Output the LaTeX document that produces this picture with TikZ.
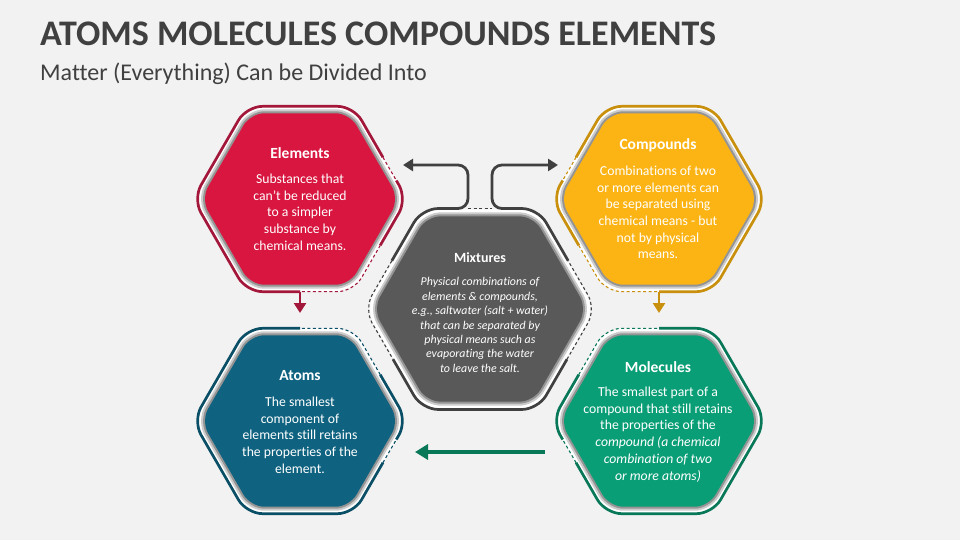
\documentclass[tikz,border=0pt]{standalone}
\usepackage{fontspec}
\setmainfont{Carlito}[Ligatures=CommonOff]
\usetikzlibrary{calc,arrows.meta}
\definecolor{bg}{HTML}{F2F2F2}
\definecolor{txt}{HTML}{404040}
\definecolor{elF}{HTML}{D8163F}
\definecolor{elR}{HTML}{A3173A}
\definecolor{coF}{HTML}{FCB415}
\definecolor{coR}{HTML}{C8900C}
\definecolor{miF}{HTML}{595959}
\definecolor{miR}{HTML}{404040}
\definecolor{atF}{HTML}{106380}
\definecolor{atR}{HTML}{0B4F66}
\definecolor{moF}{HTML}{0A9E76}
\definecolor{moR}{HTML}{087858}
\newcommand\hexpts[4]{%
  \path ({#2+#4},{#3}) coordinate (#1-0)
        ({#2+0.5*#4},{#3-0.866*#4}) coordinate (#1-1)
        ({#2-0.5*#4},{#3-0.866*#4}) coordinate (#1-2)
        ({#2-#4},{#3}) coordinate (#1-3)
        ({#2-0.5*#4},{#3+0.866*#4}) coordinate (#1-4)
        ({#2+0.5*#4},{#3+0.866*#4}) coordinate (#1-5);}
\newcommand\hexfill[2]{%
  \foreach \w/\c in {14/white, 8/black!20, 4/black!42}
    \draw[line width=\w pt, draw=\c, rounded corners=14pt] ($(#1-1)!0.5!(#1-2)$) -- (#1-2) -- (#1-3) -- (#1-4) -- (#1-5) -- (#1-0) -- (#1-1) -- cycle;
  \fill[#2, rounded corners=14pt] ($(#1-1)!0.5!(#1-2)$) -- (#1-2) -- (#1-3) -- (#1-4) -- (#1-5) -- (#1-0) -- (#1-1) -- cycle;}
\begin{document}
\begin{tikzpicture}[x=1pt,y=-1pt,
  ring/.style={line width=2.7pt, rounded corners=16pt},
  dring/.style={line width=1.1pt, rounded corners=16pt, dash pattern=on 3pt off 2.5pt},
  arr/.style={line width=2.8pt, -{Triangle[length=10pt,width=12pt]}},
  htitle/.style={text=white, font=\fontsize{15.5}{18}\selectfont\bfseries, inner sep=0pt},
  hbody/.style={text=white, align=center, font=\fontsize{13.7}{16.7}\selectfont, inner sep=0pt},
  mbody/.style={text=white, align=center, font=\fontsize{11.9}{14.4}\selectfont\itshape, inner sep=0pt}]
\fill[bg] (0,0) rectangle (960,540);
\useasboundingbox (0,0) rectangle (960,540);
% title
\node[anchor=base west, inner sep=0pt, text=txt, font=\fontsize{36}{40}\selectfont\bfseries] (title) at (40,46) {ATOMS MOLECULES COMPOUNDS ELEMENTS};
\node[anchor=base west, inner sep=0pt, text=txt, font=\fontsize{24}{28}\selectfont] (subtitle) at (40,81) {Matter (Everything) Can be Divided Into};
% geometry
\hexpts{Er}{300}{199}{107}\hexpts{Ef}{300}{199}{99}
\hexpts{Cr}{659}{199}{107}\hexpts{Cf}{659}{199}{99}
\hexpts{Ar}{300}{421}{107}\hexpts{Af}{300}{421}{99}
\hexpts{Or}{659}{421}{107}\hexpts{Of}{659}{421}{99}
\hexpts{Mr}{480}{309}{116}\hexpts{Mf}{480}{309}{107}
\coordinate (Eb) at ($(Er-4)!0.5!(Er-5)$);
\coordinate (Cb) at ($(Cr-4)!0.5!(Cr-5)$);
\coordinate (At) at ($(Ar-1)!0.5!(Ar-2)$);
\coordinate (Ot) at ($(Or-1)!0.5!(Or-2)$);
\coordinate (EA) at (300,313);
\coordinate (CO) at (659,313);
\coordinate (gs) at (545,452);
\coordinate (gt) at (415,452);
\coordinate (ml) at (468,208.5);
\coordinate (mr) at (492,208.5);
\coordinate (mlx) at (445,208.5);
\coordinate (mrx) at (515,208.5);
\coordinate (mlu) at (468,165);
\coordinate (mru) at (492,165);
\coordinate (mtipL) at (403,165);
\coordinate (mtipR) at (558,165);
% fills
\hexfill{Ef}{elF}
\hexfill{Cf}{coF}
\hexfill{Af}{atF}
\hexfill{Of}{moF}
\hexfill{Mf}{miF}
% Elements ring
\draw[ring, elR] (Eb) -- (Er-4) -- (Er-3) -- (Er-2) -- (Er-1) -- ($(Er-1)!0.55!(Er-0)$);
\draw[dring, elR] ($(Er-1)!0.55!(Er-0)$) -- ($(Er-1)!0.8!(Er-0)$);
\draw[ring, elR] ($(Er-1)!0.8!(Er-0)$) -- (Er-0) -- ($(Er-0)!0.5!(Er-5)$);
\draw[dring, elR] ($(Er-0)!0.5!(Er-5)$) -- (Er-5) -- (Eb);
\draw[arr, elR] (Eb) -- (EA);
% Compounds ring
\draw[ring, coR] (Cb) -- (Cr-5) -- (Cr-0) -- (Cr-1) -- (Cr-2) -- ($(Cr-2)!0.55!(Cr-3)$);
\draw[dring, coR] ($(Cr-2)!0.55!(Cr-3)$) -- ($(Cr-2)!0.8!(Cr-3)$);
\draw[ring, coR] ($(Cr-2)!0.8!(Cr-3)$) -- (Cr-3) -- ($(Cr-3)!0.5!(Cr-4)$);
\draw[dring, coR] ($(Cr-3)!0.5!(Cr-4)$) -- (Cr-4) -- (Cb);
\draw[arr, coR] (Cb) -- (CO);
% Atoms ring
\draw[ring, atR] (At) -- (Ar-2) -- (Ar-3) -- (Ar-4) -- (Ar-5) -- ($(Ar-5)!0.55!(Ar-0)$);
\draw[dring, atR] ($(Ar-5)!0.55!(Ar-0)$) -- ($(Ar-5)!0.8!(Ar-0)$);
\draw[ring, atR] ($(Ar-5)!0.8!(Ar-0)$) -- (Ar-0) -- ($(Ar-0)!0.5!(Ar-1)$);
\draw[dring, atR] ($(Ar-0)!0.5!(Ar-1)$) -- (Ar-1) -- (At);
% Molecules ring
\draw[ring, moR] (Ot) -- (Or-1) -- (Or-0) -- (Or-5) -- (Or-4) -- ($(Or-4)!0.55!(Or-3)$);
\draw[dring, moR] ($(Or-4)!0.55!(Or-3)$) -- ($(Or-4)!0.8!(Or-3)$);
\draw[ring, moR] ($(Or-4)!0.8!(Or-3)$) -- (Or-3) -- ($(Or-3)!0.5!(Or-2)$);
\draw[dring, moR] ($(Or-3)!0.5!(Or-2)$) -- (Or-2) -- (Ot);
\draw[moR, line width=4pt, -{Triangle[length=13pt,width=15pt]}] (gs) -- (gt);
% Mixtures ring
\draw[ring, miR] ($(Mr-2)!0.52!(Mr-3)$) -- (Mr-2) -- (450,208.5);
\draw[dring, miR] ($(Mr-2)!0.52!(Mr-3)$) -- (Mr-3) -- ($(Mr-3)!0.5!(Mr-4)$);
\draw[ring, miR] ($(Mr-3)!0.5!(Mr-4)$) -- (Mr-4) -- (Mr-5) -- ($(Mr-5)!0.5!(Mr-0)$);
\draw[dring, miR] ($(Mr-5)!0.5!(Mr-0)$) -- (Mr-0) -- ($(Mr-0)!0.48!(Mr-1)$);
\draw[ring, miR] ($(Mr-0)!0.48!(Mr-1)$) -- (Mr-1) -- (510,208.5);
\draw[dring, miR, rounded corners=0pt] (ml) -- (mr);
\draw[arr, miR, rounded corners=10pt] (mlx) -- (ml) -- (mlu) -- (mtipL);
\draw[arr, miR, rounded corners=10pt] (mrx) -- (mr) -- (mru) -- (mtipR);
% texts
\node[htitle] (el-t) at (300,153) {Elements};
\node[hbody] (el-b) at (300,212) {Substances that\\can’t be reduced\\to a simpler\\substance by\\chemical means.};
\node[htitle] (co-t) at (658,145) {Compounds};
\node[hbody] (co-b) at (658,212.5) {Combinations of two\\or more elements can\\be separated using\\chemical means - but\\not by physical\\means.};
\node[htitle, font=\fontsize{14}{17}\selectfont\bfseries] (mi-t) at (480,258) {Mixtures};
\node[mbody] (mi-b) at (480,325) {Physical combinations of\\elements \& compounds,\\e.g., saltwater (salt + water)\\that can be separated by\\physical means such as\\evaporating the water\\to leave the salt.};
\node[htitle] (at-t) at (300,376) {Atoms};
\node[hbody] (at-b) at (300,435) {The smallest\\component of\\elements still retains\\the properties of the\\element.};
\node[htitle] (mo-t) at (658,367) {Molecules};
\node[hbody] (mo-b) at (658,434.5) {The smallest part of a\\compound that still retains\\the properties of the\\\textit{compound (a chemical}\\\textit{combination of two}\\\textit{or more atoms)}};
\end{tikzpicture}
\end{document}
